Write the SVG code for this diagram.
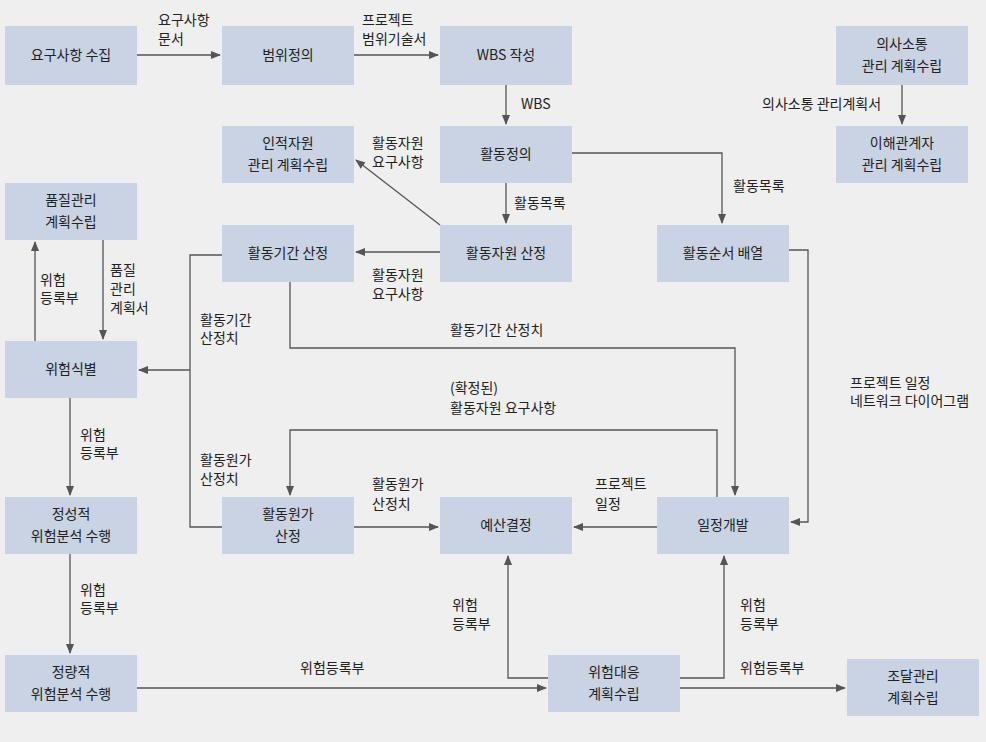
<svg xmlns="http://www.w3.org/2000/svg" width="986" height="742" viewBox="0 0 986 742">
<style>
.n rect{fill:#c9d3e3}
.n text,.l{font-family:"Noto Sans CJK KR","Noto Sans",sans-serif;font-size:14px;fill:#222}
.n text{text-anchor:middle}
.c path{fill:none;stroke:#555;stroke-width:1.3}
</style>
<defs><marker id="a" markerWidth="10" markerHeight="8" refX="9" refY="4" orient="auto" markerUnits="userSpaceOnUse"><path d="M0,0L10,4L0,8z" fill="#555"/></marker></defs>
<rect width="986" height="742" fill="#efefef"/>
<g class="c">
<path d="M137,55H220" marker-end="url(#a)"/>
<path d="M354,55H438" marker-end="url(#a)"/>
<path d="M506,85V124" marker-end="url(#a)"/>
<path d="M902,85V124" marker-end="url(#a)"/>
<path d="M506,183V223" marker-end="url(#a)"/>
<path d="M572,153H722V223" marker-end="url(#a)"/>
<path d="M440,225L356,160" marker-end="url(#a)"/>
<path d="M440,252H356" marker-end="url(#a)"/>
<path d="M222,255H190V527H222"/>
<path d="M190,370H139" marker-end="url(#a)"/>
<path d="M290,282V348H735V495" marker-end="url(#a)"/>
<path d="M717,497V430H290V495" marker-end="url(#a)"/>
<path d="M789,250H808V522H791" marker-end="url(#a)"/>
<path d="M657,527H574" marker-end="url(#a)"/>
<path d="M354,527H438" marker-end="url(#a)"/>
<path d="M35,341V242" marker-end="url(#a)"/>
<path d="M103,240V339" marker-end="url(#a)"/>
<path d="M70,398V495" marker-end="url(#a)"/>
<path d="M70,554V653" marker-end="url(#a)"/>
<path d="M137,688H546" marker-end="url(#a)"/>
<path d="M548,678H508V556" marker-end="url(#a)"/>
<path d="M680,678H724V556" marker-end="url(#a)"/>
<path d="M680,688H845" marker-end="url(#a)"/>
</g>
<g class="l">
<text x="158" y="25">요구사항</text><text x="158" y="44">문서</text>
<text x="362" y="25">프로젝트</text><text x="362" y="44">범위기술서</text>
<text x="521" y="109">WBS</text>
<text x="762" y="109">의사소통 관리계획서</text>
<text x="514" y="208">활동목록</text>
<text x="733" y="191">활동목록</text>
<text x="372" y="148">활동자원</text><text x="372" y="167">요구사항</text>
<text x="372" y="280">활동자원</text><text x="372" y="299">요구사항</text>
<text x="200" y="325">활동기간</text><text x="200" y="343">산정치</text>
<text x="200" y="465">활동원가</text><text x="200" y="484">산정치</text>
<text x="450" y="335">활동기간 산정치</text>
<text x="450" y="393">(확정된)</text><text x="450" y="413">활동자원 요구사항</text>
<text x="850" y="388">프로젝트 일정</text><text x="850" y="406">네트워크 다이어그램</text>
<text x="595" y="489">프로젝트</text><text x="595" y="509">일정</text>
<text x="372" y="489">활동원가</text><text x="372" y="509">산정치</text>
<text x="40" y="285">위험</text><text x="40" y="303">등록부</text>
<text x="110" y="275">품질</text><text x="110" y="294">관리</text><text x="110" y="313">계획서</text>
<text x="80" y="440">위험</text><text x="80" y="458">등록부</text>
<text x="80" y="595">위험</text><text x="80" y="613">등록부</text>
<text x="300" y="673">위험등록부</text>
<text x="452" y="610">위험</text><text x="452" y="629">등록부</text>
<text x="740" y="610">위험</text><text x="740" y="629">등록부</text>
<text x="740" y="673">위험등록부</text>
</g>
<g id="n1" class="n"><rect x="5" y="26" width="132" height="59"/><text x="71" y="60">요구사항 수집</text></g>
<g id="n2" class="n"><rect x="222" y="26" width="132" height="59"/><text x="288" y="60">범위정의</text></g>
<g id="n3" class="n"><rect x="440" y="26" width="132" height="59"/><text x="506" y="60">WBS 작성</text></g>
<g id="n4" class="n"><rect x="836" y="26" width="132" height="59"/><text x="902" y="49">의사소통</text><text x="902" y="71">관리 계획수립</text></g>
<g id="n5" class="n"><rect x="222" y="126" width="132" height="57"/><text x="288" y="148">인적자원</text><text x="288" y="170">관리 계획수립</text></g>
<g id="n6" class="n"><rect x="440" y="126" width="132" height="57"/><text x="506" y="159">활동정의</text></g>
<g id="n7" class="n"><rect x="836" y="126" width="132" height="57"/><text x="902" y="148">이해관계자</text><text x="902" y="170">관리 계획수립</text></g>
<g id="n8" class="n"><rect x="5" y="183" width="132" height="57"/><text x="71" y="205">품질관리</text><text x="71" y="227">계획수립</text></g>
<g id="n9" class="n"><rect x="222" y="225" width="132" height="57"/><text x="288" y="258">활동기간 산정</text></g>
<g id="n10" class="n"><rect x="440" y="225" width="132" height="57"/><text x="506" y="258">활동자원 산정</text></g>
<g id="n11" class="n"><rect x="657" y="225" width="132" height="57"/><text x="723" y="258">활동순서 배열</text></g>
<g id="n12" class="n"><rect x="5" y="341" width="132" height="57"/><text x="71" y="374">위험식별</text></g>
<g id="n13" class="n"><rect x="5" y="497" width="132" height="57"/><text x="71" y="519">정성적</text><text x="71" y="541">위험분석 수행</text></g>
<g id="n14" class="n"><rect x="222" y="497" width="132" height="57"/><text x="288" y="519">활동원가</text><text x="288" y="541">산정</text></g>
<g id="n15" class="n"><rect x="440" y="497" width="132" height="57"/><text x="506" y="530">예산결정</text></g>
<g id="n16" class="n"><rect x="657" y="497" width="132" height="57"/><text x="723" y="530">일정개발</text></g>
<g id="n17" class="n"><rect x="5" y="655" width="132" height="57"/><text x="71" y="677">정량적</text><text x="71" y="699">위험분석 수행</text></g>
<g id="n18" class="n"><rect x="548" y="655" width="132" height="57"/><text x="614" y="677">위험대응</text><text x="614" y="699">계획수립</text></g>
<g id="n19" class="n"><rect x="847" y="659" width="132" height="57"/><text x="913" y="681">조달관리</text><text x="913" y="703">계획수립</text></g>
</svg>
